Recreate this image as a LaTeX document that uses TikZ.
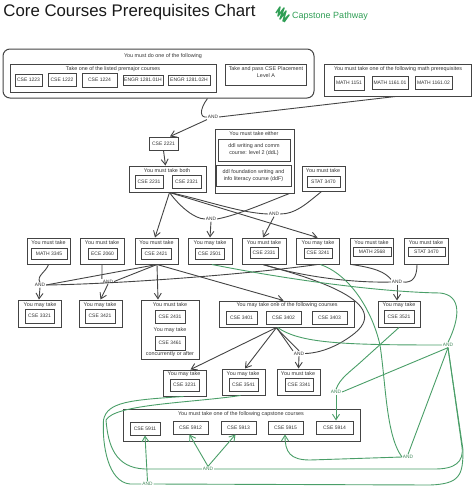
\documentclass[tikz,border=0pt]{standalone}
\usepackage{fontspec}
\setmainfont{Liberation Sans}
\usetikzlibrary{arrows.meta}
\definecolor{ink}{HTML}{444444}
\definecolor{grn}{HTML}{4A9E68}
\definecolor{logog}{HTML}{2F9E55}
\tikzset{
  framebox/.style={draw=ink,line width=1pt,inner sep=0pt,font=\fontsize{5}{6}\selectfont,text=black!80,align=center},
  roundbox/.style={framebox,rounded corners=7pt},
  lbl/.style={inner sep=0pt,font=\fontsize{5.4}{6.6}\selectfont,text=black!80,align=center},
  andn/.style={inner sep=.8pt,font=\fontsize{4.8}{5}\selectfont,text=black!80},
  andg/.style={andn,text=grn!85!black},
  cn/.style={draw=ink,line width=.9pt},
  cna/.style={cn,-{Straight Barb[length=5.5pt,width=7pt]}},
  gn/.style={draw=grn,line width=.9pt},
  gna/.style={gn,-{Straight Barb[length=5.5pt,width=7pt]}}
}
% style, name, x1, y1, x2, y2, text
\newcommand{\crsbox}[7][framebox]{%
  \pgfmathsetmacro{\cxv}{(#3+#5)/2}\pgfmathsetmacro{\cyv}{(#4+#6)/2}%
  \pgfmathsetmacro{\wv}{#5-#3}\pgfmathsetmacro{\hv}{#6-#4}%
  \node[#1,minimum width=\wv pt,minimum height=\hv pt] (#2) at (\cxv,\cyv) {#7};}
\begin{document}
\begin{tikzpicture}[x=1pt,y=-1pt]
\useasboundingbox (0,0) rectangle (474,490);
% title and logo
\node[inner sep=0pt,font=\fontsize{16.8}{18}\selectfont,text=black!90] (title) at (129.5,12) {Core Courses Prerequisites Chart};
\node[inner sep=0pt,font=\fontsize{9}{10}\selectfont,text=logog] (logotext) at (330,16) {Capstone Pathway};
\draw[logog,line width=1.5pt,line join=round] (276,13)--(280,7)--(278,16)--(284,8)--(280,19)--(286,11)--(283,21)--(289,15)--(284,22);
% top group
\crsbox[roundbox]{outer}{3}{49}{314}{98}{}
\node[lbl] (outert) at (163,56) {You must do one of the following};
\crsbox{inner}{10}{64.5}{216}{92}{}
\node[lbl] (innert) at (113,69) {Take one of the listed premajor courses};
\crsbox{a1223}{15}{74}{42}{86}{CSE 1223}
\crsbox{a1222}{48}{73.5}{76}{86.5}{CSE 1222}
\crsbox{a1224}{82}{73}{117}{87}{CSE 1224}
\crsbox{e01}{123}{75}{163}{85}{ENGR 1281.01H}
\crsbox{e02}{168}{75}{210}{85}{ENGR 1281.02H}
\crsbox{place}{225}{64}{306}{85}{}
\node[lbl] (placet) at (266,72) {Take and pass CSE Placement\\Level A};
\crsbox{math}{324}{64}{471}{96}{}
\node[lbl] (matht) at (398,69) {You must take one of the following math prerequisites};
\crsbox{m1151}{334}{76}{364}{90}{MATH 1151}
\crsbox{m6101}{372}{76}{408}{89}{MATH 1161.01}
\crsbox{m6102}{415}{76}{452}{89}{MATH 1161.02}
% second tier
\crsbox{c2221}{149}{137}{178}{150}{CSE 2221}
\crsbox{both}{129}{166}{206}{192}{}
\node[lbl] (botht) at (167,170.5) {You must take both};
\crsbox{c2231}{135}{175}{163}{188}{CSE 2231}
\crsbox{c2321}{172}{175}{201}{188}{CSE 2321}
\crsbox{either}{215}{129}{294}{193}{}
\node[lbl] (eithert) at (254,134) {You must take either};
\crsbox[framebox,font=\fontsize{5.4}{6.8}\selectfont]{ael2}{218}{139}{290}{161}{ddl writing and comm\\course: level 2 (ddL)}
\crsbox[framebox,font=\fontsize{5.4}{6.8}\selectfont]{ael1}{216}{165}{291}{186}{ddl foundation writing and\\info literacy course (ddF)}
\crsbox{stat}{302}{166}{345}{191}{}
\node[lbl] (statt) at (323,171) {You must take};
\crsbox{statc}{307}{176}{340}{187}{STAT 3470}
% third tier
\crsbox{m3345}{27}{238}{70}{264}{}
\node[lbl] (m3345t) at (48.5,243) {You must take};
\crsbox{m3345c}{31}{248}{67}{259}{MATH 3345}
\crsbox{m2060}{80}{238}{124}{264}{}
\node[lbl] (m2060t) at (102,243) {You must take};
\crsbox{m2060c}{88}{248}{117}{259}{ECE 2060}
\crsbox{m2421}{135}{238}{178}{264}{}
\node[lbl] (m2421t) at (156.5,243) {You must take};
\crsbox{m2421c}{141}{248}{171}{259}{CSE 2421}
\crsbox{m2501}{188}{238}{232}{264}{}
\node[lbl] (m2501t) at (210,243) {You may take};
\crsbox{m2501c}{195}{248}{224}{259}{CSE 2501}
\crsbox{m2331}{242}{238}{286}{264}{}
\node[lbl] (m2331t) at (264,243) {You must take};
\crsbox{m2331c}{250}{247}{278}{258}{CSE 2331}
\crsbox{m3241}{296}{238}{339}{264}{}
\node[lbl] (m3241t) at (318,243) {You may take};
\crsbox{m3241c}{304}{248}{332}{258}{CSE 3241}
\crsbox{m2568}{350}{238}{393}{264}{}
\node[lbl] (m2568t) at (371.5,243) {You must take};
\crsbox{m2568c}{353}{247}{391}{256}{MATH 2568}
\crsbox{m3470}{404}{238}{448}{264}{}
\node[lbl] (m3470t) at (426,243) {You must take};
\crsbox{m3470c}{408}{247}{445}{256}{STAT 3470}
% fourth tier
\crsbox{r3321}{18}{300}{61}{327}{}
\node[lbl] (r3321t) at (40,305) {You may take};
\crsbox{r3321c}{25}{309.5}{54}{323}{CSE 3321}
\crsbox{r3421}{79}{300}{122}{327}{}
\node[lbl] (r3421t) at (100,305) {You may take};
\crsbox{r3421c}{85}{309.5}{115}{323}{CSE 3421}
\crsbox{r2431}{141}{300}{199}{359}{}
\node[lbl] (r2431t) at (170,305) {You must take};
\crsbox{r2431c}{155}{310}{185}{323}{CSE 2431}
\node[lbl] (r3461t) at (170,330) {You may take};
\crsbox{r3461c}{155}{336}{185}{350}{CSE 3461}
\node[lbl] (r3461n) at (170,354) {concurrently or after};
\crsbox{r34}{219}{301}{354}{327}{}
\node[lbl] (r34t) at (287,305) {You may take one of the following courses};
\crsbox{c3401}{226}{311}{257}{324}{CSE 3401}
\crsbox{c3402}{266}{311}{301}{324}{CSE 3402}
\crsbox{c3403}{312}{311}{347}{324}{CSE 3403}
\crsbox{r3521}{378}{301}{420}{327}{}
\node[lbl] (r3521t) at (399,305.5) {You may take};
\crsbox{r3521c}{384}{310}{414}{323}{CSE 3521}
% fifth tier
\crsbox{s3231}{163}{370}{206}{396}{}
\node[lbl] (s3231t) at (184,374.5) {You may take};
\crsbox{s3231c}{170}{379}{199}{391}{CSE 3231}
\crsbox{s3541}{222}{369}{265}{395}{}
\node[lbl] (s3541t) at (243,374) {You may take};
\crsbox{s3541c}{229}{378}{258}{391}{CSE 3541}
\crsbox{s3341}{277}{369}{320}{395}{}
\node[lbl] (s3341t) at (298,373.5) {You must take};
\crsbox{s3341c}{285}{378}{313}{391}{CSE 3341}
% capstone
\crsbox{cap}{123}{409.5}{360}{441}{}
\node[lbl] (capt) at (241,414.5) {You must take one of the following capstone courses};
\crsbox{c5911}{130}{422}{160}{435}{CSE 5911}
\crsbox{c5912}{173}{421}{208}{434}{CSE 5912}
\crsbox{c5913}{221}{421}{256}{434}{CSE 5913}
\crsbox{c5915}{268}{421}{303}{434}{CSE 5915}
\crsbox{c5914}{316}{421}{353}{434}{CSE 5914}
% AND nodes
\node[andn] (a1) at (213,117) {AND};
\node[andn] (a2) at (211,219) {AND};
\node[andn] (a3) at (274,214) {AND};
\node[andn] (a4) at (40,285) {AND};
\node[andn] (a5) at (108,281.5) {AND};
\node[andn] (a6) at (397,282) {AND};
\node[andn] (a7) at (299,353.5) {AND};
\node[andg] (a8) at (448,345) {AND};
\node[andg] (a9) at (336,392) {AND};
\node[andg] (a10) at (408,457) {AND};
\node[andg] (a11) at (208,469) {AND};
\node[andg] (a12) at (147.5,484) {AND};
% black connectors
\draw[cn] ([xshift=49pt]outer.south) .. controls (199,110) and (200,118) .. (a1.west);
\draw[cn] ([xshift=-2pt]math.south) -- (a1.east);
\draw[cna] (a1.south west) -- ([xshift=6.5pt]c2221.north);
\draw[cna] (c2221.south) -- ([xshift=-2pt]both.north);
\draw[cna] ([xshift=2pt]both.south) -- ([xshift=-1.5pt]m2421.north);
\draw[cn] ([xshift=2pt]both.south) .. controls (180,207) and (195,219) .. (a2.west);
\draw[cn] ([xshift=35pt]either.south) .. controls (265,203) and (238,215) .. (a2.east);
\draw[cna] (a2.south) -- (m2501.north);
\draw[cn] ([xshift=2pt]both.south) .. controls (205,200) and (240,213) .. (a3.west);
\draw[cna] ([xshift=2pt]both.south) -- (m3241.north);
\draw[cn] ([xshift=-2pt]stat.south) .. controls (305,205) and (295,214) .. (a3.east);
\draw[cna] (a3.south) -- ([xshift=-1pt]m2331.north);
\draw[cn] (m3345.south) .. controls (46,272) and (36,276) .. (a4.north);
\draw[cna] (a4.south) -- ([xshift=-0.5pt]r3321.north);
\draw[cn] ([xshift=.5pt]m2421.south) -- (a4.east);
\draw[cn] ([xshift=.5pt]m2421.south) -- (a5.east);
\draw[cn] (m3241.south) .. controls (250,274) and (120,284) .. (a4.east);
\draw[cn] (m2060.south) -- (a5.north west);
\draw[cna] (a5.south) -- (r3421.north);
\draw[cna] ([xshift=.5pt]m2421.south) -- ([xshift=-12pt]r2431.north);
\draw[cna] ([xshift=.5pt]m2421.south) -- ([xshift=-3pt]r34.north);
\draw[cn] ([xshift=-1pt]m2331.south) .. controls (300,275) and (395,300) .. (355,333) .. controls (340,345) and (322,353) .. (a7.east);
\draw[cn] ([xshift=-1pt]m2331.south) .. controls (300,276) and (350,283) .. (a6.west);
\draw[cn] ([xshift=-20pt]m2568.south) .. controls (375,268) and (385,272) .. (a6.north west);
\draw[cn] ([xshift=-9pt]m3470.south) .. controls (417,278) and (412,283) .. (a6.east);
\draw[cna] (a6.south) -- ([xshift=-2pt]r3521.north);
\draw[cna] ([xshift=-10pt]r34.south) -- ([xshift=6pt]s3231.north);
\draw[cna] ([xshift=-10pt]r34.south) -- ([xshift=1.5pt]s3541.north);
\draw[cn] ([xshift=-10pt]r34.south) -- (a7.north west);
\draw[cn] ([xshift=-10.6pt]r34.south) -- (a7.north);
\draw[cna] (a7.south) -- (s3341.north);
% green connectors
\draw[gn] ([xshift=2pt]m2501.south) .. controls (290,280) and (380,292) .. (440,293) .. controls (462,295) and (460,318) .. (a8.north);
\draw[gn] ([xshift=-9pt]r34.south) .. controls (300,343) and (340,345) .. (a8.west);
\draw[gn] ([xshift=3pt]m3241.south) .. controls (350,275) and (372,310) .. (380,345) .. controls (386,385) and (386,435) .. (a10.west);
\draw[gn] (r3521.south) -- (363,360) .. controls (350,372) and (340,378) .. (a9.north);
\draw[gn] (a8.south) -- (a9.east);
\draw[gn] (a8.south) -- (a10.north);
\draw[gn] (a8.south) -- (462,447) .. controls (464,462) and (455,469) .. (435,469) -- (a11.east);
\draw[gn] (a8.south) -- (463,450) .. controls (463,475) and (460,484) .. (430,485) -- (a12.east);
\draw[gna] (a10.west) -- (310,460) .. controls (290,460) and (285,452) .. ([xshift=-0.5pt]c5915.south);
\draw[gna] (a9.south) -- ([xshift=1.5pt]c5914.north);
\draw[gna] (a11.north) -- ([xshift=-1pt]c5912.south);
\draw[gna] (a11.north) -- ([xshift=-3pt]c5913.south);
\draw[gna] (a12.north) -- (c5911.south);
\draw[gn] ([xshift=-1pt]s3231.south) .. controls (130,400) and (107,402) .. (103.5,420) .. controls (102,445) and (108,482) .. (130,484) -- (a12.west);
\draw[gn] ([xshift=-3pt]s3541.south) .. controls (190,403) and (115,404) .. (106,420) .. controls (108,445) and (115,468) .. (145,469) -- (a11.west);
\end{tikzpicture}
\end{document}
